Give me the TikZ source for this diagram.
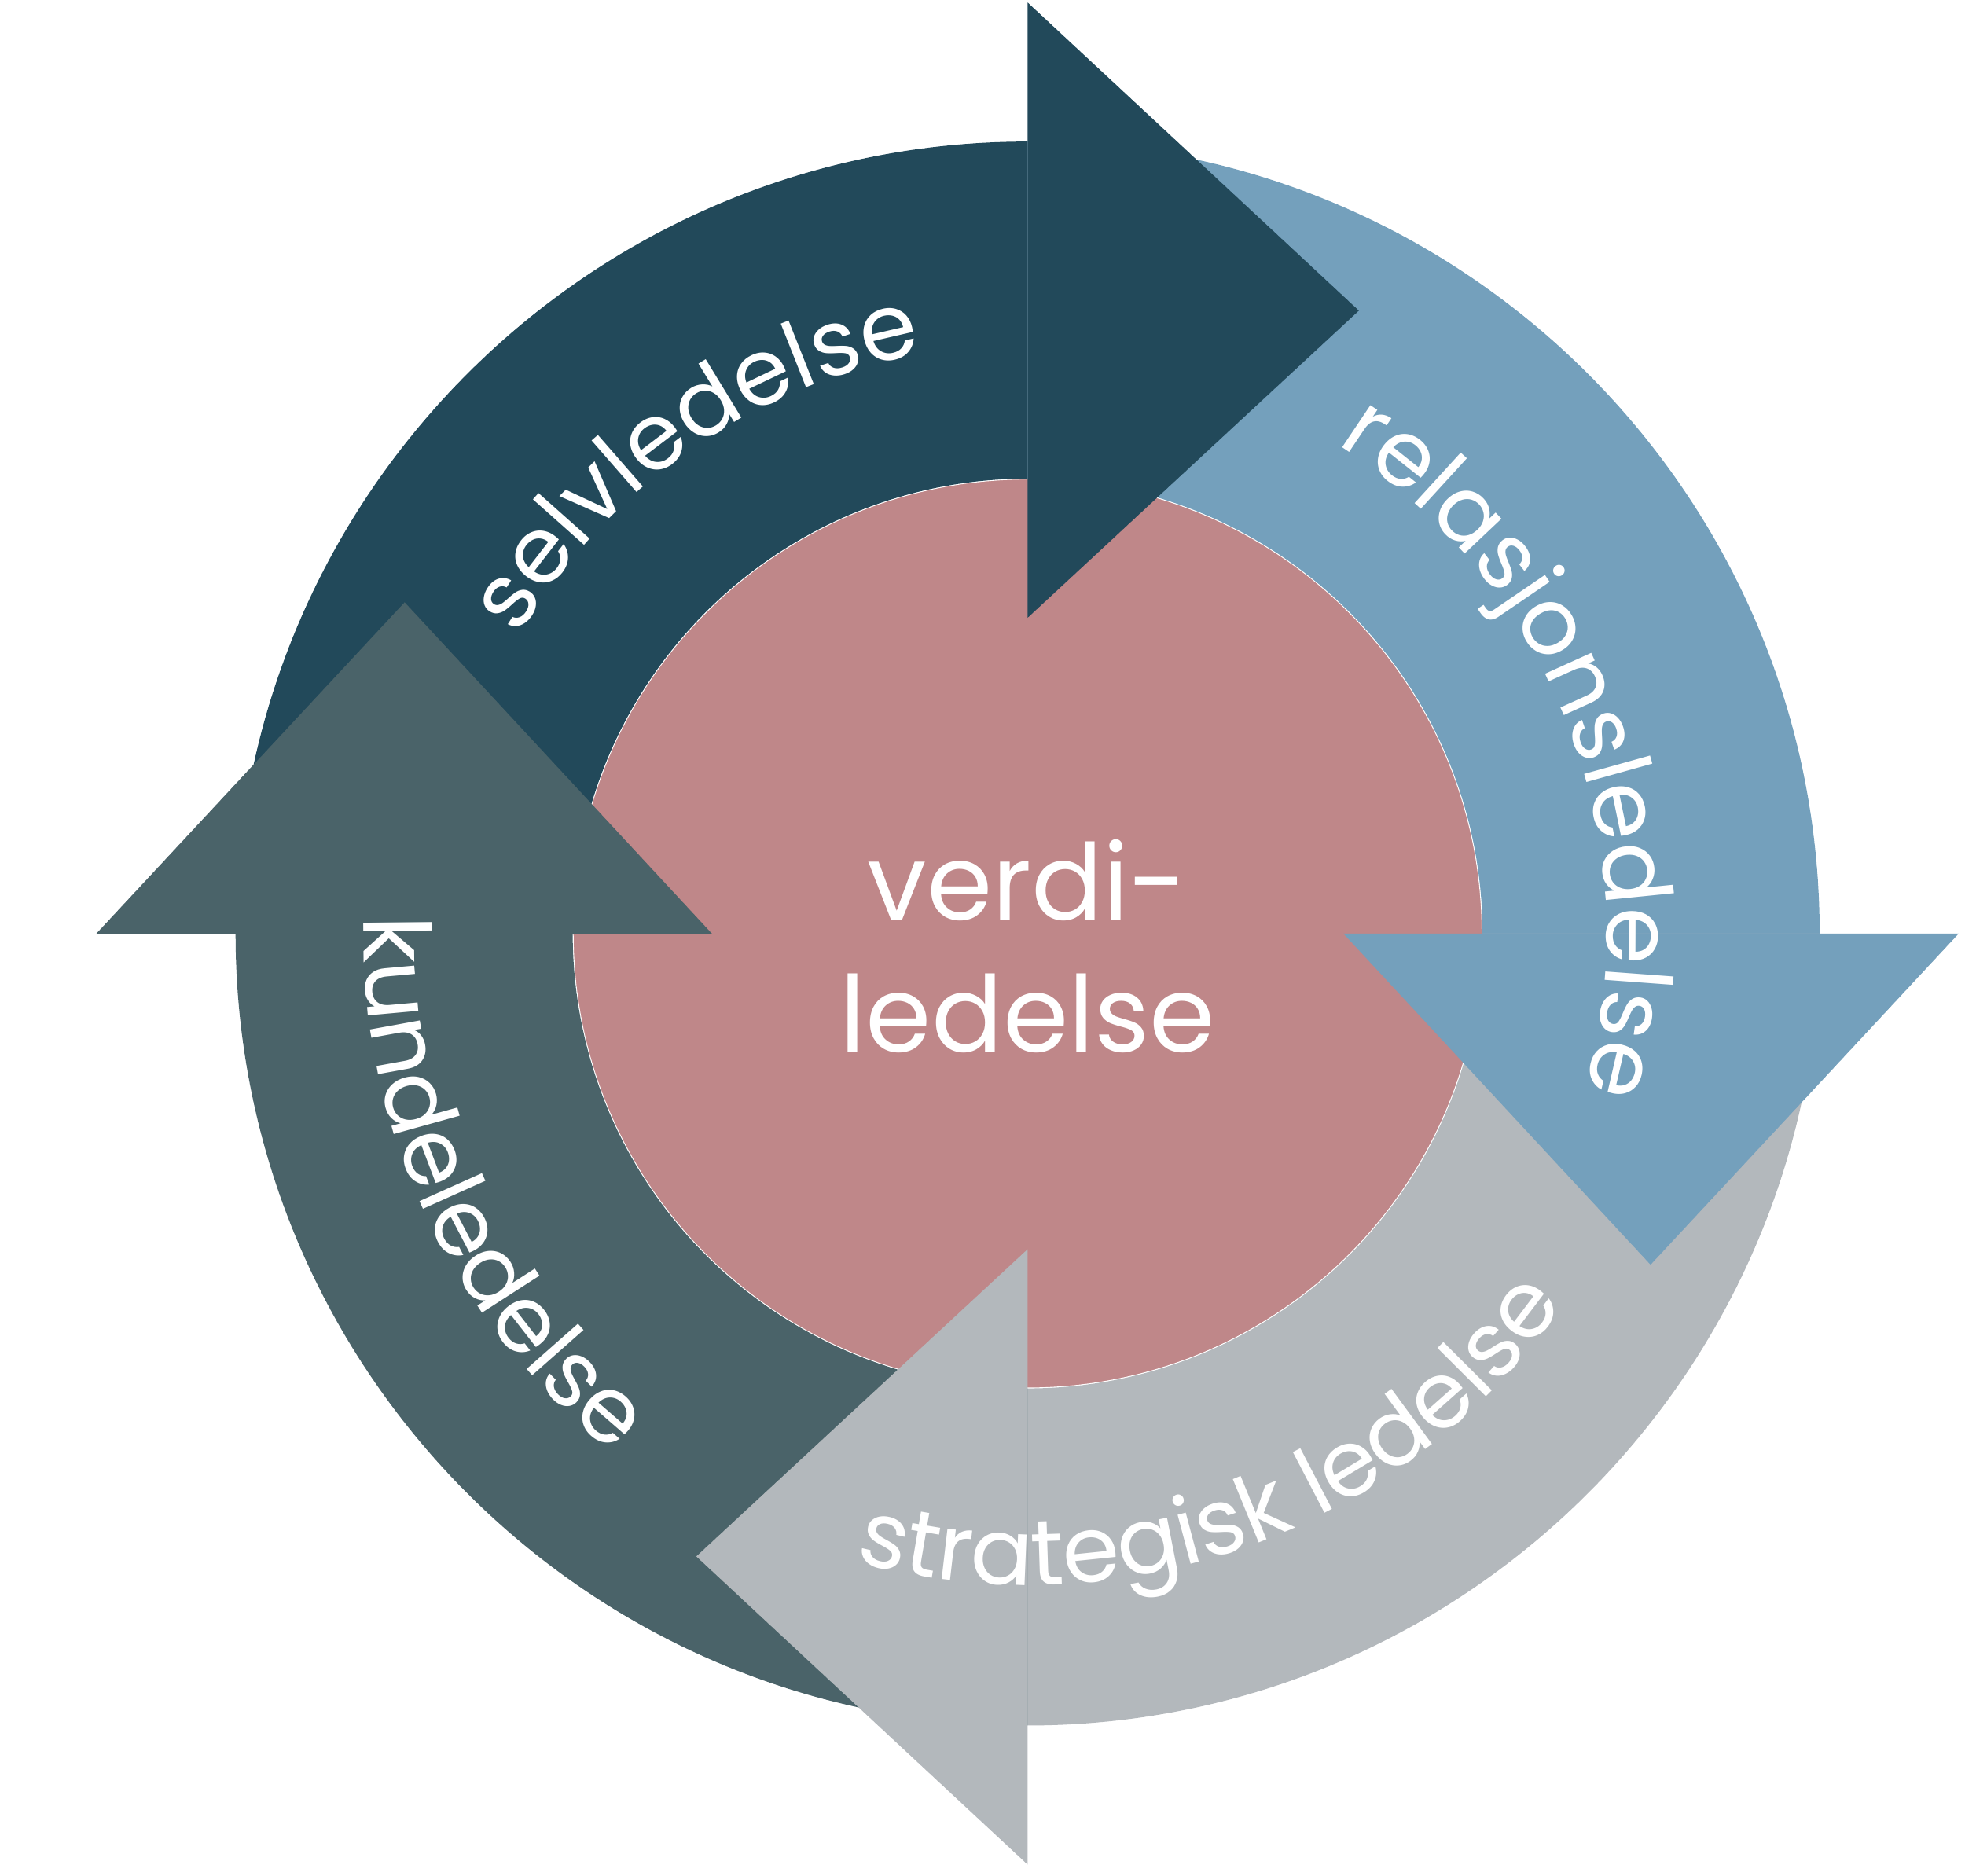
\documentclass[tikz,border=0pt]{standalone}
\usepackage{fontspec}
\setmainfont{Poppins}
\usetikzlibrary{decorations.text}
\definecolor{cdark}{HTML}{22495A}
\definecolor{cblue}{HTML}{74A0BC}
\definecolor{cgray}{HTML}{B3B8BC}
\definecolor{ckunde}{HTML}{4A6369}
\definecolor{cpink}{HTML}{BF8789}
\tikzset{
  lbl/.style={decorate,decoration={text along path,text align=center,text color=white,text={#1}}}
}
\newcommand{\mybody}[3]{\fill[#1] (#2:363) arc[start angle=#2,end angle=#3,radius=363] -- (#3:632) arc[start angle=#3,end angle=#2,radius=632] -- cycle;}
\newcommand{\myhead}[2]{\fill[#1] (#2:252) -- (#2:743) -- (#2-28:563) -- cycle;}
\begin{document}
\begin{tikzpicture}[x=0.1mm,y=0.1mm]
\useasboundingbox (-820,-752) rectangle (748,745);
\fill[white] (-820,-752) rectangle (748,745);
\fill[cpink,draw=white,thin] (0,0) circle[radius=363];
\node[inner sep=0] (c) at (0,0) {};
\mybody{cdark}{180}{90}
\mybody{cblue}{90}{0}
\mybody{cgray}{0}{-90}
\mybody{ckunde}{-90}{-180}
\myhead{cdark}{90}
\myhead{cblue}{0}
\myhead{cgray}{-90}
\myhead{ckunde}{180}
\node[align=center,text=white,font=\fontsize{24}{30}\selectfont] (v) at (0,-10) {verdi-\\ledelse};
\path[lbl={|\fontsize{21}{21}\selectfont|selvledelse}] (155:470) arc[start angle=155,end angle=95,radius=470];
\path[lbl={|\fontsize{21}{21}\selectfont|relasjonsledelse}] (62:462) arc[start angle=62,end angle=-20,radius=462];
\path[lbl={|\fontsize{21}{21}\selectfont|strategisk ledelse}] (240:520) arc[start angle=240,end angle=340,radius=520];
\path[lbl={|\fontsize{21}{21}\selectfont|kundeledelse}] (170:530) arc[start angle=170,end angle=240,radius=530];
\end{tikzpicture}
\end{document}
